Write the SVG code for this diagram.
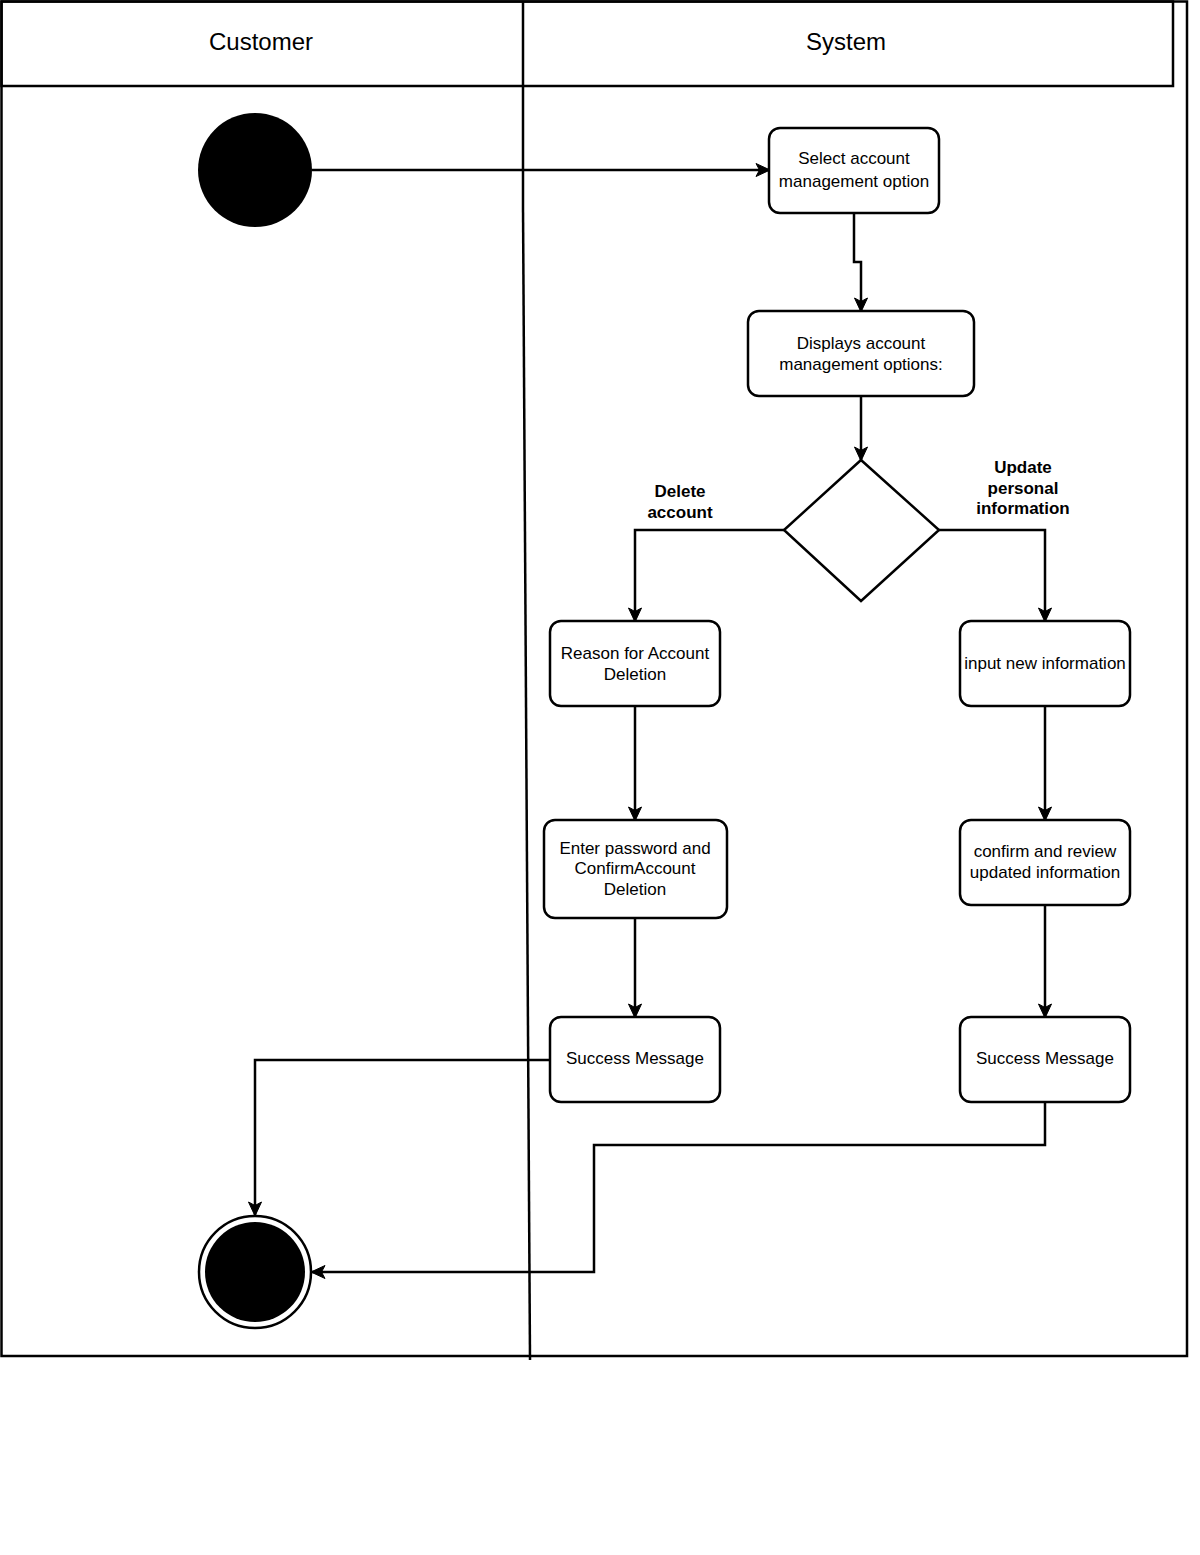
<svg xmlns="http://www.w3.org/2000/svg" width="1200" height="1555" viewBox="0 0 1200 1555">
<style>
.lane{fill:none;stroke:#000;stroke-width:2.5}
.node{fill:#fff;stroke:#000;stroke-width:2.5}
.t{font-family:"Liberation Sans",Arial,sans-serif;font-size:17px;fill:#000;text-anchor:middle}
.h{font-family:"Liberation Sans",Arial,sans-serif;font-size:24px;fill:#000;text-anchor:middle}
.b{font-family:"Liberation Sans",Arial,sans-serif;font-size:17px;font-weight:bold;fill:#000;text-anchor:middle}
.edge{fill:none;stroke:#000;stroke-width:2.5;marker-end:url(#arr)}
</style>
<defs>
<marker id="arr" markerUnits="userSpaceOnUse" markerWidth="16" markerHeight="16" viewBox="0 0 16 16" refX="14" refY="8" orient="auto">
<path d="M1,1.5 L15,8 L1,14.5 L4.5,8 Z" fill="#000" stroke="#000" stroke-width="1"/>
</marker>
</defs>
<rect width="1200" height="1555" fill="#fff"/>
<g id="lanes">
<rect class="lane" x="1.5" y="1.5" width="1185.5" height="1354.5"/>
<rect class="lane" x="1.5" y="1.5" width="1171.5" height="84.5"/>
<line class="lane" x1="523" y1="1" x2="523" y2="207"/>
<line class="lane" x1="523" y1="207" x2="530" y2="1360"/>
<text class="h" x="261" y="50">Customer</text>
<text class="h" x="846" y="50">System</text>
</g>
<g id="connectors">
<path class="edge" d="M312,170 L769,170"/>
<path class="edge" d="M854,213 L854,262 L861,262 L861,311"/>
<path class="edge" d="M861,396 L861,460"/>
<path class="edge" d="M784,530 L635,530 L635,621"/>
<path class="edge" d="M939,530 L1045,530 L1045,621"/>
<path class="edge" d="M635,706 L635,820"/>
<path class="edge" d="M635,918 L635,1017"/>
<path class="edge" d="M1045,706 L1045,820"/>
<path class="edge" d="M1045,905 L1045,1017"/>
<path class="edge" d="M550,1060 L255,1060 L255,1215"/>
<path class="edge" d="M1045,1102 L1045,1145 L594,1145 L594,1272 L312,1272"/>
<text class="b" x="680" y="497">Delete</text>
<text class="b" x="680" y="518">account</text>
<text class="b" x="1023" y="473">Update</text>
<text class="b" x="1023" y="494">personal</text>
<text class="b" x="1023" y="514">information</text>
</g>
<g id="start">
<circle cx="255" cy="170" r="57" fill="#000"/>
</g>
<g id="select">
<rect class="node" x="769" y="128" width="170" height="85" rx="11"/>
<text class="t" x="854" y="164">Select account</text>
<text class="t" x="854" y="187">management option</text>
</g>
<g id="displays">
<rect class="node" x="748" y="311" width="226" height="85" rx="11"/>
<text class="t" x="861" y="349">Displays account</text>
<text class="t" x="861" y="370">management options:</text>
</g>
<g id="decision">
<polygon class="node" points="861,460 939,530 861,601 784,530"/>
</g>
<g id="reason">
<rect class="node" x="550" y="621" width="170" height="85" rx="11"/>
<text class="t" x="635" y="659">Reason for Account</text>
<text class="t" x="635" y="680">Deletion</text>
</g>
<g id="input">
<rect class="node" x="960" y="621" width="170" height="85" rx="11"/>
<text class="t" x="1045" y="669">input new information</text>
</g>
<g id="enter">
<rect class="node" x="544" y="820" width="183" height="98" rx="11"/>
<text class="t" x="635" y="854">Enter password and</text>
<text class="t" x="635" y="874">ConfirmAccount</text>
<text class="t" x="635" y="895">Deletion</text>
</g>
<g id="confirm">
<rect class="node" x="960" y="820" width="170" height="85" rx="11"/>
<text class="t" x="1045" y="857">confirm and review</text>
<text class="t" x="1045" y="878">updated information</text>
</g>
<g id="success1">
<rect class="node" x="550" y="1017" width="170" height="85" rx="11"/>
<text class="t" x="635" y="1064">Success Message</text>
</g>
<g id="success2">
<rect class="node" x="960" y="1017" width="170" height="85" rx="11"/>
<text class="t" x="1045" y="1064">Success Message</text>
</g>
<g id="end">
<circle cx="255" cy="1272" r="56" fill="#fff" stroke="#000" stroke-width="2.5"/>
<circle cx="255" cy="1272" r="50" fill="#000"/>
</g>
</svg>
